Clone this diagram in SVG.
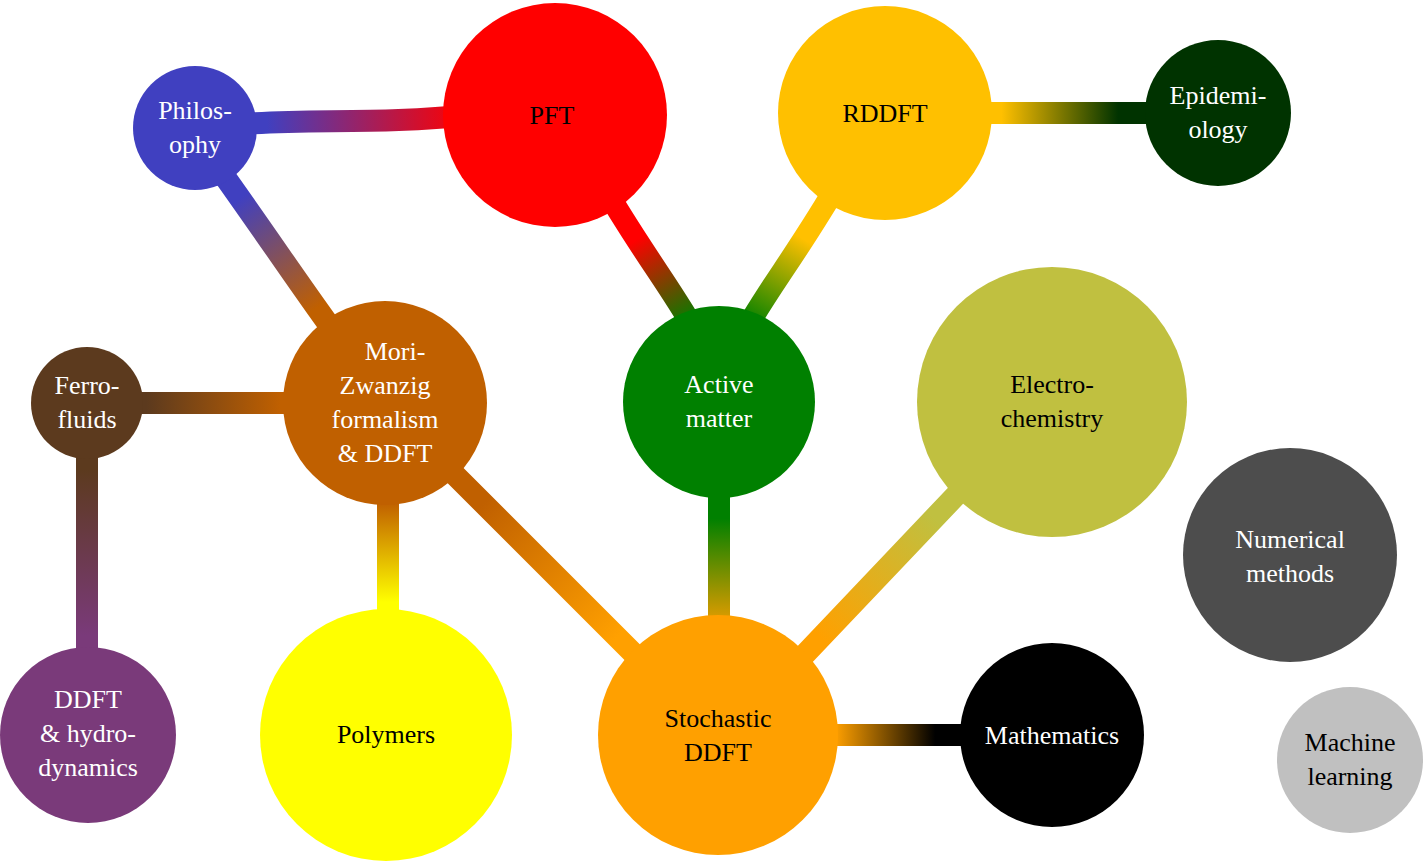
<svg xmlns="http://www.w3.org/2000/svg" width="1424" height="862" viewBox="0 0 1424 862">
<style>
text{font-family:"Liberation Serif","DejaVu Serif",serif;font-size:26px;text-anchor:middle}
.w{fill:#fff}.k{fill:#000}
.c{fill:none;stroke-width:22;stroke-linecap:round}
</style>
<defs>
<linearGradient id="g1" gradientUnits="userSpaceOnUse" x1="195" y1="128" x2="555" y2="115"><stop offset="0.2" stop-color="#4040c0"/><stop offset="0.75" stop-color="#ff0000"/></linearGradient>
<linearGradient id="g2" gradientUnits="userSpaceOnUse" x1="555" y1="115" x2="719" y2="402"><stop offset="0.45" stop-color="#ff0000"/><stop offset="0.75" stop-color="#008000"/></linearGradient>
<linearGradient id="g3" gradientUnits="userSpaceOnUse" x1="885" y1="113" x2="719" y2="402"><stop offset="0.45" stop-color="#ffc000"/><stop offset="0.75" stop-color="#008000"/></linearGradient>
<linearGradient id="g4" gradientUnits="userSpaceOnUse" x1="885" y1="113" x2="1218" y2="113"><stop offset="0.35" stop-color="#ffc000"/><stop offset="0.7" stop-color="#003300"/></linearGradient>
<linearGradient id="g5" gradientUnits="userSpaceOnUse" x1="195" y1="128" x2="385" y2="403"><stop offset="0.25" stop-color="#4040c0"/><stop offset="0.65" stop-color="#c06000"/></linearGradient>
<linearGradient id="g6" gradientUnits="userSpaceOnUse" x1="87" y1="403" x2="385" y2="403"><stop offset="0.2" stop-color="#5c3a1e"/><stop offset="0.65" stop-color="#c06000"/></linearGradient>
<linearGradient id="g7" gradientUnits="userSpaceOnUse" x1="87" y1="403" x2="87" y2="735"><stop offset="0.2" stop-color="#5c3a1e"/><stop offset="0.7" stop-color="#7a3a7a"/></linearGradient>
<linearGradient id="g8" gradientUnits="userSpaceOnUse" x1="385" y1="403" x2="386" y2="735"><stop offset="0.3" stop-color="#c06000"/><stop offset="0.6" stop-color="#ffff00"/></linearGradient>
<linearGradient id="g9" gradientUnits="userSpaceOnUse" x1="385" y1="403" x2="718" y2="735"><stop offset="0.3" stop-color="#c06000"/><stop offset="0.7" stop-color="#ffa000"/></linearGradient>
<linearGradient id="g10" gradientUnits="userSpaceOnUse" x1="719" y1="402" x2="718" y2="735"><stop offset="0.35" stop-color="#008000"/><stop offset="0.7" stop-color="#ffa000"/></linearGradient>
<linearGradient id="g11" gradientUnits="userSpaceOnUse" x1="1052" y1="402" x2="718" y2="735"><stop offset="0.35" stop-color="#c0c040"/><stop offset="0.7" stop-color="#ffa000"/></linearGradient>
<linearGradient id="g12" gradientUnits="userSpaceOnUse" x1="718" y1="735" x2="1052" y2="735"><stop offset="0.35" stop-color="#ffa000"/><stop offset="0.65" stop-color="#000"/></linearGradient>
</defs>
<rect width="1424" height="862" fill="#fff"/>
<g id="connectors">
<path class="c" stroke="url(#g1)" d="M230,125 C300,118 380,125 470,115"/>
<path class="c" stroke="url(#g2)" d="M600,180 C640,250 680,300 700,340"/>
<path class="c" stroke="url(#g3)" d="M840,180 C800,250 760,300 740,340"/>
<path class="c" stroke="url(#g4)" d="M960,113 C1020,113 1100,113 1170,113"/>
<path class="c" stroke="url(#g5)" d="M220,170 C270,240 310,300 340,340"/>
<path class="c" stroke="url(#g6)" d="M120,403 L320,403"/>
<path class="c" stroke="url(#g7)" d="M87,440 L87,680"/>
<path class="c" stroke="url(#g8)" d="M388,470 L388,650"/>
<path class="c" stroke="url(#g9)" d="M450,470 L660,680"/>
<path class="c" stroke="url(#g10)" d="M719,470 L719,650"/>
<path class="c" stroke="url(#g11)" d="M980,470 L790,670"/>
<path class="c" stroke="url(#g12)" d="M800,735 L990,735"/>
</g>
<g id="philosophy"><circle cx="195" cy="128" r="62" fill="#4040c0"/><text class="w" x="195" y="119">Philos-</text><text class="w" x="195" y="153">ophy</text></g>
<g id="pft"><circle cx="555" cy="115" r="112" fill="#ff0000"/><text class="k" x="552" y="124">PFT</text></g>
<g id="rddft"><circle cx="885" cy="113" r="107" fill="#ffc000"/><text class="k" x="885" y="122">RDDFT</text></g>
<g id="epidemiology"><circle cx="1218" cy="113" r="73" fill="#003300"/><text class="w" x="1218" y="104">Epidemi-</text><text class="w" x="1218" y="138">ology</text></g>
<g id="ferrofluids"><circle cx="87" cy="403" r="56" fill="#5c3a1e"/><text class="w" x="87" y="394">Ferro-</text><text class="w" x="87" y="428">fluids</text></g>
<g id="mori"><circle cx="385" cy="403" r="102" fill="#c06000"/><text class="w" x="395" y="360">Mori-</text><text class="w" x="385" y="394">Zwanzig</text><text class="w" x="385" y="428">formalism</text><text class="w" x="385" y="462">&amp; DDFT</text></g>
<g id="active"><circle cx="719" cy="402" r="96" fill="#008000"/><text class="w" x="719" y="393">Active</text><text class="w" x="719" y="427">matter</text></g>
<g id="electro"><circle cx="1052" cy="402" r="135" fill="#c0c040"/><text class="k" x="1052" y="393">Electro-</text><text class="k" x="1052" y="427">chemistry</text></g>
<g id="numerical"><circle cx="1290" cy="555" r="107" fill="#4d4d4d"/><text class="w" x="1290" y="548">Numerical</text><text class="w" x="1290" y="582">methods</text></g>
<g id="hydro"><circle cx="88" cy="735" r="88" fill="#7a3a7a"/><text class="w" x="88" y="708">DDFT</text><text class="w" x="88" y="742">&amp; hydro-</text><text class="w" x="88" y="776">dynamics</text></g>
<g id="polymers"><circle cx="386" cy="735" r="126" fill="#ffff00"/><text class="k" x="386" y="743">Polymers</text></g>
<g id="stochastic"><circle cx="718" cy="735" r="120" fill="#ffa000"/><text class="k" x="718" y="727">Stochastic</text><text class="k" x="718" y="761">DDFT</text></g>
<g id="mathematics"><circle cx="1052" cy="735" r="92" fill="#000"/><text class="w" x="1052" y="744">Mathematics</text></g>
<g id="ml"><circle cx="1350" cy="760" r="73" fill="#c0c0c0"/><text class="k" x="1350" y="751">Machine</text><text class="k" x="1350" y="785">learning</text></g>
</svg>
